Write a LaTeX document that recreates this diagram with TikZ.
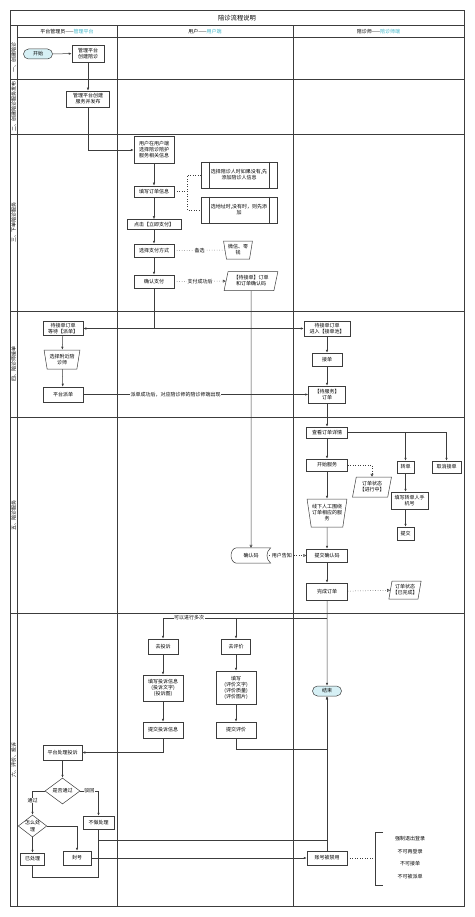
\documentclass[tikz,border=0pt]{standalone}
\usepackage{fontspec}
\setmainfont{Noto Sans CJK SC}
\usetikzlibrary{arrows.meta,calc,shapes.geometric,shapes.misc}
\definecolor{LineGray}{RGB}{60,60,60}
\definecolor{HeadTeal}{RGB}{60,180,200}
\definecolor{TermCyan}{RGB}{214,240,245}
\tikzset{
  cnfont/.style={font=\fontsize{5}{6}\selectfont},
  sz/.style 2 args={minimum width=#1pt,minimum height=#2pt},
  procbox/.style={draw=LineGray,fill=white,cnfont,align=center,inner sep=.5pt,line width=.5pt},
  termbox/.style={procbox,rounded rectangle,fill=TermCyan},
  trapbox/.style={procbox,trapezium,trapezium stretches=true,
    trapezium left angle=103,trapezium right angle=103},
  slantbox/.style={procbox,trapezium,trapezium stretches=true,
    trapezium left angle=75,trapezium right angle=105},
  choice/.style={procbox,diamond,aspect=1.3,inner sep=0pt},
  link/.style={draw=LineGray,line width=.5pt},
  flow/.style={link,-{Latex[length=3pt,width=2.4pt]}},
  openflow/.style={link,-{Triangle[open,length=3pt,width=3pt]}},
  hint/.style={link,dotted},
  hintarr/.style={hint,-{Triangle[open,length=3pt,width=3pt]}},
  lbl/.style={cnfont,fill=white,inner sep=.5pt},
  frame/.style={draw=LineGray,line width=.7pt}
}

\begin{document}
\begin{tikzpicture}[x=1pt,y=-1pt]
  \useasboundingbox (0,0) rectangle (474,917);
  % swimlane frame
  \draw[frame] (10,10) rectangle (464,906.5);
  \draw[frame] (10,25.7) -- (464,25.7);
  \draw[frame] (17.5,37) -- (464,37);
  \draw[frame] (17.5,25.7) -- (17.5,906.5) (117,25.7) -- (117,906.5) (293,25.7) -- (293,906.5);
  \foreach \y in {79.3,134,311,417,613}
    \draw[frame] (10,\y) -- (464,\y);
  \node[font=\fontsize{6.3}{7}\selectfont] (title) at (237,17.8) {陪诊流程说明};
  \node[cnfont] (headAdmin) at (67,31.5) {平台管理员——\textcolor{HeadTeal}{管理平台}};
  \node[cnfont] (headUser) at (205,31.5) {用户——\textcolor{HeadTeal}{用户端}};
  \node[cnfont] (headEscort) at (378.5,31.5) {陪诊师——\textcolor{HeadTeal}{陪诊师端}};
  \foreach \y/\t [count=\i] in {58/一、创建陪诊,106.5/二、创建陪诊服务发布,222/三、下单陪诊服务,
      364/四、陪诊师接单,515/五、陪诊服务,760/六、评价、投诉}
    \node[cnfont,rotate=90] (row\i) at (13.7,\y) {\t};

  % 一 / 二
  \node[termbox,sz={30}{10}] (start) at (38,54) {开始};
  \node[procbox,sz={32}{17}] (mkSite) at (88,53.5) {管理平台\\创建陪诊};
  \node[procbox,sz={43}{16}] (pubSvc) at (88,99) {管理平台创建\\服务并发布};

  % 三
  \node[procbox,sz={40}{27}] (pickSvc) at (154,150) {用户在用户端\\选择陪诊陪护\\服务相关信息};
  \node[procbox,sz={40}{11}] (fillOrd) at (154,191.5) {填写订单信息};
  \node[procbox,sz={54}{10}] (payNow) at (154,224.5) {点击【立即支付】};
  \node[procbox,sz={40}{13}] (payWay) at (154,250.5) {选择支付方式};
  \node[procbox,sz={40}{13}] (payOk) at (154,281.5) {确认支付};
  \node[procbox,sz={76}{26}] (subA) at (239,175) {选择陪诊人时如果没有,先\\添加陪诊人信息};
  \node[procbox,sz={76}{26}] (subB) at (239,210) {选地址时,没有时，则先添\\加};
  \foreach \n in {subA,subB}
    \draw[link] ([xshift=8pt]\n.north west) -- ([xshift=8pt]\n.south west)
      ([xshift=-8pt]\n.north east) -- ([xshift=-8pt]\n.south east);
  \node[trapbox,sz={29}{18}] (wallet) at (238,250) {微信、零\\钱};
  \node[slantbox,sz={54}{19}] (pending) at (251,281) {【待接单】订单\\和订单确认码};

  % 四
  \node[procbox,sz={40}{14}] (waitDisp) at (63,328.5) {待接单订单\\等待【派单】};
  \node[trapbox,sz={36}{19}] (nearby) at (62,359.5) {选择附近陪\\诊师};
  \node[procbox,sz={40}{15}] (dispatch) at (63,394.5) {平台派单};
  \node[procbox,sz={46}{15}] (pool) at (327,328.5) {待接单订单\\进入【接单池】};
  \node[procbox,sz={30}{13}] (grab) at (327,359.5) {接单};
  \node[procbox,sz={37}{17}] (toServe) at (327,394.5) {【待服务】\\订单};

  % 五
  \node[procbox,sz={41}{11}] (detail) at (327,432.5) {查看订单详情};
  \node[procbox,sz={41}{12}] (begin) at (327,465) {开始服务};
  \node[procbox,sz={17}{12}] (transfer) at (405.5,467) {转单};
  \node[procbox,sz={29}{12}] (cancel) at (446.5,467) {取消接单};
  \node[slantbox,sz={39}{20}] (going) at (372,487) {订单状态\\【进行中】};
  \node[trapbox,sz={40}{28}] (offline) at (327,513) {线下人工围绕\\订单相应的服\\务};
  \node[procbox,sz={37}{17}] (phone) at (409.5,500.5) {填写转单人手\\机号};
  \node[procbox,sz={17}{13}] (submit) at (405.5,533.5) {提交};
  \node[procbox,sz={41}{13}] (sendCode) at (327,555.5) {提交确认码};
  \node[cnfont,sz={39}{15}] (code) at (251,555.5) {确认码};
  \draw[link] ([xshift=5pt]code.north west) -- (code.north east)
    .. controls ($(code.north east)+(-5,4)$) and ($(code.south east)+(-5,-4)$) .. (code.south east)
    -- ([xshift=5pt]code.south west)
    .. controls ($(code.south west)+(-2,-1)$) and ($(code.north west)+(-2,1)$) .. cycle;
  \node[procbox,sz={41}{17}] (finish) at (327,591.5) {完成订单};
  \node[slantbox,sz={26}{18}] (done) at (405,590) {订单状态\\【已完成】};

  % 六
  \node[termbox,sz={30}{10}] (endN) at (327,691) {结束};
  \node[procbox,sz={30}{15}] (goCmp) at (163,646.5) {去投诉};
  \node[procbox,sz={40}{26}] (fillCmp) at (163,688) {填写投诉信息\\(投诉文字)\\(投诉图)};
  \node[procbox,sz={40}{16}] (subCmp) at (163,730) {提交投诉信息};
  \node[procbox,sz={29}{15}] (goRate) at (236,646.5) {去评价};
  \node[procbox,sz={40}{33}] (fillRate) at (236,687.5) {填写\\(评价文字)\\(评价质量)\\(评价图片)};
  \node[procbox,sz={40}{16}] (subRate) at (236,730) {提交评价};
  \node[procbox,sz={39}{15}] (handle) at (62.5,752.5) {平台处理投诉};
  \node[choice,sz={35}{26}] (pass) at (62.5,791) {是否通过};
  \node[choice,sz={27}{22}] (how) at (32.5,826) {怎么处\\理};
  \node[procbox,sz={31}{13}] (noAct) at (98.5,822.5) {不做处理};
  \node[procbox,sz={24}{12}] (handled) at (32.5,859) {已处理};
  \node[procbox,sz={28}{14}] (ban) at (77,858) {封号};
  \node[procbox,sz={40}{14}] (banned) at (327,858) {账号被禁用};
  \coordinate (brk) at (375,858);
  \draw[link] (383,832) -| (375,885) -- (383,885);
  \foreach \y/\t [count=\i] in {838.5/强制退出登录,851.5/不可再登录,864/不可接单,877/不可被派单}
    \node[cnfont] (limit\i) at (410,\y) {\t};

  % connectors
  \draw[flow] (start) -- (mkSite);
  \draw[flow] (mkSite) -- (pubSvc);
  \draw[flow] (pubSvc.south) |- (pickSvc.west);
  \draw[flow] (pickSvc) -- (fillOrd);
  \draw[flow] (fillOrd) -- (payNow);
  \draw[flow] (payNow) -- (payWay);
  \draw[flow] (payWay) -- (payOk);
  \draw[hint] (fillOrd.east) -- ++(13,0) coordinate (dotFork) |- (subA.west);
  \draw[hint] (dotFork) |- (subB.west);
  \draw[hint] (payWay) -- node[lbl]{备选} (wallet);
  \draw[hintarr] (payOk) -- node[lbl]{支付成功后} (pending);
  \coordinate (payFork) at (payOk.south |- waitDisp.east);
  \draw[flow] (payOk.south) -- (payFork) -- (waitDisp.east);
  \draw[flow] (payFork) -- (pool.west);
  \draw[openflow] (pending.south) -- (code.north);
  \draw[flow] (waitDisp) -- (nearby);
  \draw[flow] (nearby) -- (dispatch);
  \draw[flow] (dispatch) -- node[lbl,pos=.41]{派单成功后，对应陪诊师的陪诊师端出现} (toServe);
  \draw[flow] (pool) -- (grab);
  \draw[flow] (grab) -- (toServe);
  \draw[flow] (toServe) -- (detail);
  \draw[flow] (detail) -- (begin);
  \draw[flow] (begin) -- (offline);
  \draw[flow] (offline) -- (sendCode);
  \draw[flow] (sendCode) -- (finish);
  \draw[flow] (detail.east) -| (transfer.north);
  \draw[flow] (detail.east) -| (cancel.north);
  \draw[flow] (transfer.south) -- (transfer.south |- phone.north);
  \draw[flow] (transfer.south |- phone.south) -- (submit.north);
  \draw[hintarr] (begin.east) -| (going.north);
  \draw[hintarr] ([xshift=-2pt]code.east) -- node[lbl,pos=.35]{用户告知} (sendCode.west);
  \draw[hintarr] (finish) -- (done);
  \coordinate (multi) at (327,618);
  \draw[flow] (finish) -- (endN);
  \draw[flow] (multi) -| node[lbl,pos=.42]{可以进行多次} (goCmp.north);
  \draw[flow] (goRate.north |- multi) -- (goRate);
  \draw[flow] (goCmp) -- (fillCmp);
  \draw[flow] (fillCmp) -- (subCmp);
  \draw[flow] (goRate) -- (fillRate);
  \draw[flow] (fillRate) -- (subRate);
  \draw[flow] (subRate.south) -- ++(0,11) -| (endN.south);
  \draw[flow] (subCmp.south) |- (handle.east);
  \draw[flow] (handle) -- (pass);
  \draw[flow] (pass.west) -| node[lbl,pos=.7]{通过} (how.north);
  \draw[flow] (pass.east) -| node[lbl,pos=.25]{驳回} (noAct.north);
  \draw[flow] (how) -- (handled);
  \draw[flow] (how.east) -| (ban.north);
  \draw[link] (handled.south) -- ++(0,12) -| (noAct.south);
  \coordinate (merge) at (98.5,840);
  \draw[flow] (noAct.south) -- (merge) -| (endN.south);
  \draw[link] (banned.north) -- (banned.north |- merge);
  \draw[flow] (ban) -- (banned);
  \draw[hint] (banned) -- (brk);
\end{tikzpicture}
\end{document}
